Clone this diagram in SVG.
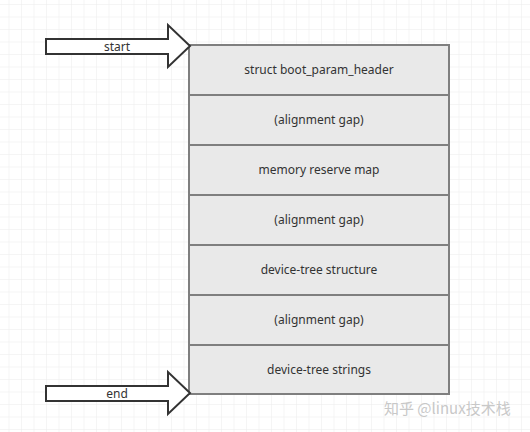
<svg xmlns="http://www.w3.org/2000/svg" width="530" height="432" viewBox="0 0 530 432">
<defs>
<pattern id="grid" x="8.5" y="4" width="12.5" height="12.5" patternUnits="userSpaceOnUse">
<path d="M0 0H12.5M0 0V12.5" fill="none" stroke="#ebebeb" stroke-width="1"/>
</pattern>
<style>
.cell{fill:#e9e9e9;stroke:#7f7f7f;stroke-width:2}
.lbl{font-family:"Noto Sans","Liberation Sans",Arial,sans-serif;font-size:12px;fill:#333;text-anchor:middle}
.arrow{fill:#fff;stroke:#333;stroke-width:2;stroke-linejoin:miter}
.wm{font-family:"Noto Sans CJK SC","Liberation Sans",sans-serif;font-size:15px;fill:#c8c8c8}
</style>
</defs>
<rect width="530" height="432" fill="#fff"/>
<rect width="530" height="432" fill="url(#grid)"/>
<g id="cell1"><rect class="cell" x="189" y="45" width="260" height="50"/><text class="lbl" x="319" y="74">struct boot_param_header</text></g>
<g id="cell2"><rect class="cell" x="189" y="95" width="260" height="50"/><text class="lbl" x="319" y="124">(alignment gap)</text></g>
<g id="cell3"><rect class="cell" x="189" y="145" width="260" height="50"/><text class="lbl" x="319" y="174">memory reserve map</text></g>
<g id="cell4"><rect class="cell" x="189" y="195" width="260" height="50"/><text class="lbl" x="319" y="224">(alignment gap)</text></g>
<g id="cell5"><rect class="cell" x="189" y="245" width="260" height="50"/><text class="lbl" x="319" y="274">device-tree structure</text></g>
<g id="cell6"><rect class="cell" x="189" y="295" width="260" height="50"/><text class="lbl" x="319" y="324">(alignment gap)</text></g>
<g id="cell7"><rect class="cell" x="189" y="345" width="260" height="49"/><text class="lbl" x="319" y="374">device-tree strings</text></g>
<g id="connectors">
<g id="start"><path class="arrow" d="M46 39H168V25L190 46L168 67V54H46Z"/><text class="lbl" x="117" y="51">start</text></g>
<g id="end"><path class="arrow" d="M46 386H168V372L190 393L168 414V401H46Z"/><text class="lbl" x="117" y="398">end</text></g>
</g>
<text class="wm" x="384" y="414">知乎 @linux技术栈</text>
</svg>
